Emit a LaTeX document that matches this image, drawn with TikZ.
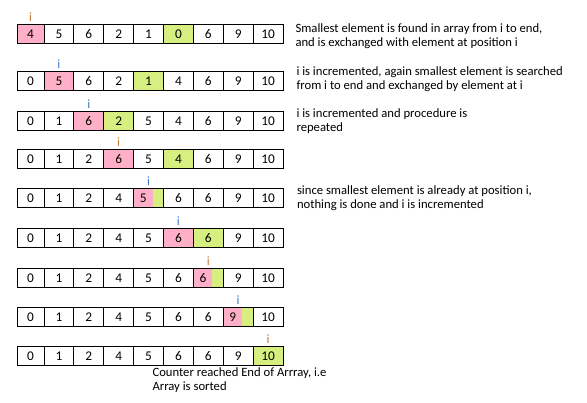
\documentclass[tikz,border=0pt]{standalone}
\usepackage{fontspec}
\setmainfont{Carlito}
\definecolor{swappink}{HTML}{FFAFC8}
\definecolor{mingreen}{HTML}{D7EE80}
\definecolor{ptrorange}{HTML}{C87832}
\definecolor{ptrblue}{HTML}{3C78C0}
\tikzset{
  num/.style={font=\fontsize{10}{12}\selectfont, inner sep=0pt},
  ptr/.style={font=\fontsize{9.5}{11}\selectfont, inner sep=0pt},
  note/.style={font=\fontsize{9.5}{11}\selectfont, align=left, anchor=base west, inner sep=0pt},
}
\begin{document}
\begin{tikzpicture}[x=0.75pt,y=-0.75pt,line width=0.75pt]
  \useasboundingbox (0,0) rectangle (587,403);
  % rows: number / top / values / pink / green / pointer / colour of i
  \foreach \row/\top/\vals/\p/\g/\i/\ic in {
      1/25/{4,5,6,2,1,0,6,9,10}/1/6/1/ptrorange,
      2/72/{0,5,6,2,1,4,6,9,10}/2/5/2/ptrblue,
      3/112/{0,1,6,2,5,4,6,9,10}/3/4/3/ptrblue,
      4/150/{0,1,2,6,5,4,6,9,10}/4/6/4/ptrorange,
      5/189/{0,1,2,4,5,6,6,9,10}/5/5/5/ptrblue,
      6/229/{0,1,2,4,5,6,6,9,10}/6/7/6/ptrblue,
      7/269/{0,1,2,4,5,6,6,9,10}/7/7/7/ptrorange,
      8/308/{0,1,2,4,5,6,6,9,10}/8/8/8/ptrblue,
      9/347/{0,1,2,4,5,6,6,9,10}/0/9/9/ptrorange} {
    \foreach \v [count=\k] in \vals {
      \pgfmathsetmacro\xl{\k==1 ? 17 : 44+29.875*(\k-2)}
      \pgfmathsetmacro\xr{44+29.875*(\k-1)}
      \pgfmathsetmacro\xm{\p==\g ? \xl+0.64*(\xr-\xl) : \xr}
      \pgfmathsetmacro\xc{\k==\p ? (\xl+\xm)/2 : (\xl+\xr)/2}
      \ifnum\k=\g \fill[mingreen] (\xl,\top) rectangle (\xr,\top+19); \fi
      \ifnum\k=\p \fill[swappink] (\xl,\top) rectangle (\xm,\top+19); \fi
      \draw (\xl,\top) rectangle (\xr,\top+19);
      \node[num] (r\row c\k) at (\xc,\top+9.5) {\v};
      \ifnum\k=\i \node[ptr,text=\ic] (i\row) at ({(\xl+\xr)/2},\top-8) {i}; \fi
    }
  }
  % notes (anchored on the baseline of their last line)
  \node[note] (n1) at (295,47) {Smallest element is found in array from i to end,\\and is exchanged with element at position i};
  \node[note] (n2) at (296,90) {i is incremented, again smallest element is searched\\from i to end and exchanged by element at i};
  \node[note] (n3) at (296,132) {i is incremented and procedure is\\repeated};
  \node[note] (n5) at (296.5,209) {since smallest element is already at position i,\\nothing is done and i is incremented};
  \node[note] (nend) at (152,391) {Counter reached End of Arrray, i.e\\Array is sorted};
\end{tikzpicture}
\end{document}
